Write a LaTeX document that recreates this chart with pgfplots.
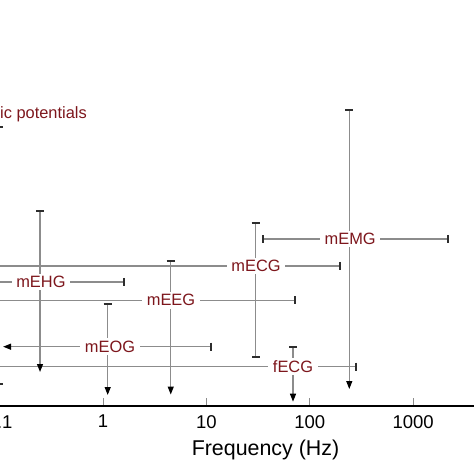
\documentclass[border=0pt]{standalone}
\usepackage{pgfplots}
\pgfplotsset{compat=1.18}
\usepackage{fontspec}
\setmainfont{Liberation Sans}
\usetikzlibrary{arrows.meta}
\definecolor{lbl}{RGB}{125,22,28}
\definecolor{ln}{RGB}{140,140,140}
\definecolor{capc}{RGB}{45,45,45}
\tikzset{
  hl/.style={ln, line width=1.2pt},
  lab/.style={font=\fontsize{16.4}{16.4}\selectfont, text=lbl, fill=white,
    inner xsep=4.5pt, inner ysep=2.5pt, anchor=center},
}
\newcommand{\CAP}{Bar[width=8pt,line width=2pt,color=capc]}
\newcommand{\ARR}{Triangle[width=6pt,length=8pt,color=black]}
\begin{document}
\begin{tikzpicture}[x=1pt,y=1pt]
\useasboundingbox (0pt,-68.3pt) rectangle (474pt,405.7pt);
\clip (0pt,-68.3pt) rectangle (474pt,405.7pt);
\begin{axis}[
  at={(-0.625pt,0pt)}, anchor=south west,
  scale only axis, width=474.625pt, height=405.7pt,
  xmode=log, log basis x=10,
  xmin=0.0995, xmax=3873,
  ymin=0, ymax=405.7,
  axis x line=bottom, axis y line=none,
  axis line style={-, black, line width=1.6pt},
  xtick={0.1,1,10,100,1000},
  xticklabels={0.1,1,10,100,1000},
  minor xtick={},
  tick align=inside,
  major tick length=8pt,
  xtick style={ln, line width=1pt},
  /pgf/number format/assume math mode=true,
  xticklabel style={font=\fontsize{18.5}{18.5}\selectfont, yshift=-6pt},
  xlabel={Frequency (Hz)},
  xlabel style={at={(rel axis cs:0.5607,0)}, anchor=center, yshift=-44.3pt,
    font=\fontsize{21.4}{21.4}\selectfont},
]
% horizontal (frequency) ranges
\addplot[hl, -{\CAP}] coordinates {(0.01,123.7) (1.64,123.7)};      % mEHG
\addplot[hl, -{\CAP}] coordinates {(0.01,139.7) (201.7,139.7)};     % mECG
\addplot[hl, {\CAP}-{\CAP}] coordinates {(34.7,166.7) (2220,166.7)}; % mEMG
\addplot[hl, -{\CAP}] coordinates {(0.01,105.4) (73,105.4)};        % mEEG
\addplot[hl, {\ARR}-{\CAP}] coordinates {(0.108,59) (11.3,59)};     % mEOG
\addplot[hl, -{\CAP}] coordinates {(0.01,39) (286,39)};             % fECG
% vertical (amplitude) ranges
\addplot[hl, {\CAP}-{\ARR}] coordinates {(0.246,195.7) (0.246,33.7)};  % mEHG
\addplot[hl, {\CAP}-{\CAP}] coordinates {(30.0,183.4) (30.0,48)};      % mECG
\addplot[hl, {\CAP}-{\ARR}] coordinates {(241,296.7) (241,16.7)};      % mEMG
\addplot[hl, {\CAP}-{\ARR}] coordinates {(4.52,145.7) (4.52,11.2)};    % mEEG
\addplot[hl, {\CAP}-{\ARR}] coordinates {(1.11,103) (1.11,10.7)};      % mEOG
\addplot[hl, {\CAP}-{\ARR}] coordinates {(68.8,59.7) (68.8,4)};        % fECG
\addplot[hl, {\CAP}-{\CAP}, clip=false] coordinates {(0.0976,280) (0.0976,20.7)};
% labels
\node[lab] at (axis cs:0.251,123.7) {mEHG};
\node[lab] at (axis cs:30.2,139.7) {mECG};
\node[lab] at (axis cs:246,166.7) {mEMG};
\node[lab] at (axis cs:4.55,105.4) {mEEG};
\node[lab] at (axis cs:1.17,59) {mEOG};
\node[lab] at (axis cs:68.8,39) {fECG};
\node[font=\fontsize{16.4}{16.4}\selectfont, text=lbl, inner sep=0pt, anchor=base east]
  at (axis cs:0.700,286.7) {Bioelectric potentials};
\end{axis}
\end{tikzpicture}
\end{document}
